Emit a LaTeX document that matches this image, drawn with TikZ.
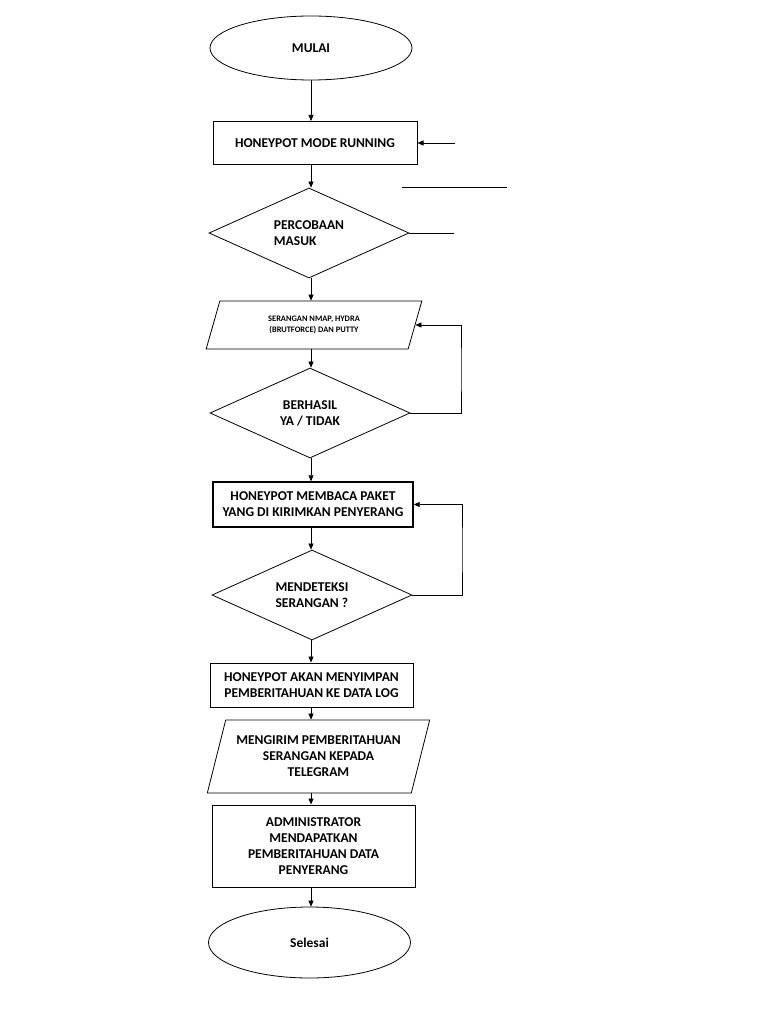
\documentclass[tikz,border=0pt]{standalone}
\usepackage{fontspec}
\setmainfont{Carlito}
\usetikzlibrary{shapes.geometric,arrows.meta}

\tikzset{
  teks/.style={font=\fontsize{13.5}{16}\selectfont\bfseries},
  kotak/.style={draw, line width=1pt, minimum width=204pt, minimum height=44pt, align=center, inner sep=2pt},
  belah/.style={draw, diamond, shape aspect=2.2, line width=0.8pt, minimum width=200pt, minimum height=90pt, inner sep=0pt, align=left},
  oval/.style={draw, ellipse, line width=0.8pt, minimum width=202pt, minimum height=64pt},
  jajar/.style={draw, trapezium, trapezium stretches=true, line width=0.8pt, align=center, inner sep=1pt},
  pfeil/.style={-{Triangle[length=6pt,width=5pt]}, line width=0.6pt}
}

\begin{document}
\begin{tikzpicture}[x=1pt, y=-1pt, every node/.style={teks}]
  \useasboundingbox (0,0) rectangle (768,1024);

  % Ablauf
  \node[oval] (mulai) at (311,48) {MULAI};
  \node[kotak, minimum height=43pt] (running) at (315,143) {HONEYPOT MODE RUNNING};
  \node[belah] (percobaan) at (309,233) {PERCOBAAN\\MASUK};
  \node[jajar, trapezium left angle=71, trapezium right angle=109, minimum width=216pt, minimum height=48pt,
        font=\fontsize{8.4}{11}\selectfont\bfseries] (serangan) at (314,325) {SERANGAN NMAP, HYDRA\\(BRUTFORCE) DAN PUTTY};
  \node[belah, align=center] (berhasil) at (310,413) {BERHASIL\\YA / TIDAK};
  \node[kotak, minimum width=200pt, minimum height=45pt, line width=1.4pt] (membaca) at (313,504.5) {HONEYPOT MEMBACA PAKET\\YANG DI KIRIMKAN PENYERANG};
  \node[belah] (deteksi) at (312,595) {MENDETEKSI\\SERANGAN ?};
  \node[kotak, minimum width=203pt] (simpan) at (311.5,685) {HONEYPOT AKAN MENYIMPAN\\PEMBERITAHUAN KE DATA LOG};
  \node[jajar, trapezium left angle=69, trapezium right angle=111, minimum width=223pt, minimum height=73pt] (kirim) at (318.5,756.5) {MENGIRIM PEMBERITAHUAN\\SERANGAN KEPADA\\TELEGRAM};
  \node[kotak, minimum width=203pt, minimum height=82pt] (admin) at (313.5,846) {ADMINISTRATOR\\MENDAPATKAN\\PEMBERITAHUAN DATA\\PENYERANG};
  \node[oval, minimum height=71pt] (selesai) at (309.5,942.5) {Selesai};

  % Pfeile senkrecht
  \coordinate (sumbu) at (311,0);
  \foreach \a/\b in {mulai/running, running/percobaan, percobaan/serangan, serangan/berhasil,
                     berhasil/membaca, membaca/deteksi, deteksi/simpan, simpan/kirim,
                     kirim/admin, admin/selesai}
    \draw[pfeil] (sumbu |- \a.south) -- (sumbu |- \b.north);

  % Linien rechts
  \coordinate (atasA) at (455,143);
  \draw[pfeil] (atasA) -- (running.east);
  \coordinate (garisA) at (402,187);
  \coordinate (garisB) at (507,187);
  \draw[line width=0.6pt] (garisA) -- (garisB);
  \coordinate (atasB) at (454,233);
  \draw[line width=0.6pt] (percobaan.east) -- (atasB);

  % Schleifen
  \coordinate (kananA) at (461,370);
  \draw[pfeil] (berhasil.east) -| (kananA) |- (serangan.east);
  \coordinate (kananB) at (462,550);
  \draw[pfeil] (deteksi.east) -| (kananB) |- (membaca.east);
\end{tikzpicture}
\end{document}
